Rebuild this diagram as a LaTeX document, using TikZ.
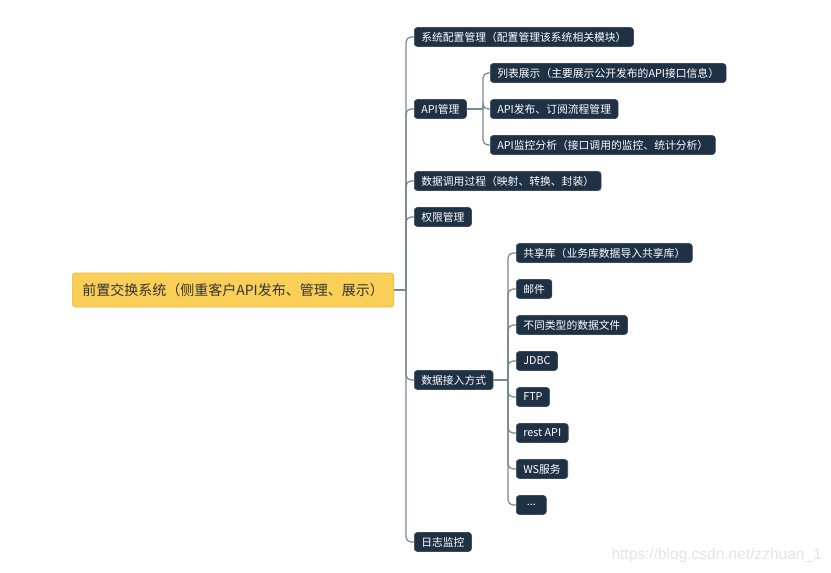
\documentclass[tikz,border=0pt]{standalone}
\usepackage{fontspec}
\setmainfont{Noto Sans CJK SC}
\newfontfamily\wmfont{Liberation Sans}
\definecolor{rootyellow}{RGB}{249,207,87}
\definecolor{rootborder}{RGB}{232,186,60}
\definecolor{roottext}{RGB}{51,51,51}
\definecolor{navy}{RGB}{31,49,69}
\definecolor{navyborder}{RGB}{60,76,94}
\definecolor{linegray}{RGB}{122,135,148}
\definecolor{wmgray}{RGB}{228,228,228}
\begin{document}
\begin{tikzpicture}[x=1pt,y=-1pt,
  rootbox/.style={fill=rootyellow, draw=rootborder, line width=0.6pt, rounded corners=3pt,
    font=\fontsize{14}{16}\selectfont, text=roottext, minimum height=34pt, inner xsep=10pt, inner ysep=0pt, anchor=west},
  leafbox/.style={fill=navy, draw=navyborder, line width=0.6pt, rounded corners=3pt, text=white,
    font=\fontsize{10.8}{12}\selectfont, minimum height=19pt, inner xsep=7pt, inner ysep=0pt, anchor=west},
  stub/.style={draw=linegray, line width=1.2pt},
  conn/.style={draw=linegray, line width=1.2pt, rounded corners=5pt}]
\useasboundingbox[fill=white] (0,0) rectangle (831,573);

\node[rootbox] (r) at (72,290) {前置交换系统（侧重客户API发布、管理、展示）};

\node[leafbox] (a1) at (414,37) {系统配置管理（配置管理该系统相关模块）};
\node[leafbox] (a2) at (414,109) {API管理};
\node[leafbox] (a3) at (414,181) {数据调用过程（映射、转换、封装）};
\node[leafbox] (a4) at (414,217) {权限管理};
\node[leafbox] (a5) at (414,380) {数据接入方式};
\node[leafbox] (a6) at (414,542) {日志监控};

\node[leafbox] (b1) at (490,73) {列表展示（主要展示公开发布的API接口信息）};
\node[leafbox] (b2) at (490,109) {API发布、订阅流程管理};
\node[leafbox] (b3) at (490,145) {API监控分析（接口调用的监控、统计分析）};

\node[leafbox] (c1) at (516,253) {共享库（业务库数据导入共享库）};
\node[leafbox] (c2) at (516,289) {邮件};
\node[leafbox] (c3) at (516,325) {不同类型的数据文件};
\node[leafbox] (c4) at (516,361) {JDBC};
\node[leafbox] (c5) at (516,397) {FTP};
\node[leafbox] (c6) at (516,433) {rest API};
\node[leafbox] (c7) at (516,469) {WS服务};
\node[leafbox, minimum width=30pt] (c8) at (516,505) {...};

\coordinate (ra) at (406,290);
\coordinate (ab) at (483,109);
\coordinate (ac) at (508,380);

\draw[stub] (r.east) -- (ra);
\draw[stub] (a2.east) -- (ab);
\draw[stub] (a5.east) -- (ac);
\foreach \n in {a1,a2,a3,a4,a5,a6} \draw[conn] (ra) |- (\n.west);
\foreach \n in {b1,b2,b3} \draw[conn] (ab) |- (\n.west);
\foreach \n in {c1,c2,c3,c4,c5,c6,c7,c8} \draw[conn] (ac) |- (\n.west);

\node[font=\wmfont\fontsize{15.5}{17}\selectfont, text=wmgray, anchor=east, inner sep=0pt] (wm) at (822,555) {https://blog.csdn.net/zzhuan\_1};
\end{tikzpicture}
\end{document}
